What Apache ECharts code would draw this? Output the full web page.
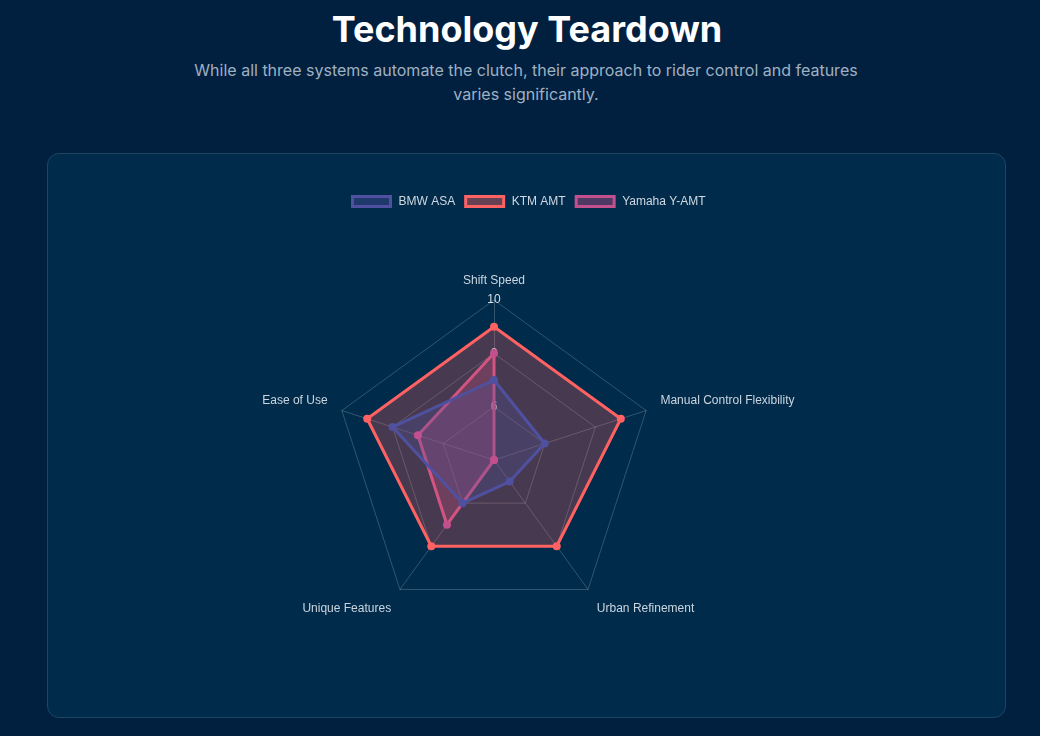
<!DOCTYPE html>
<html>
<head>
<meta charset="utf-8">
<script src="https://cdn.jsdelivr.net/npm/echarts@6/dist/echarts.min.js"></script>
<style>
  html, body { margin: 0; padding: 0; }
  body { width: 1040px; height: 736px; background: #01203f; position: relative; overflow: hidden; font-family: Inter, "Noto Sans", sans-serif; }
  #title { position: absolute; left: 7px; width: 1040px; top: 6px; text-align: center; color: #ffffff; font-family: Inter, sans-serif; font-weight: 700; font-size: 36px; line-height: 46px; letter-spacing: 0px; }
  #sub { position: absolute; left: 180px; width: 692px; top: 58px; text-align: center; color: #9fb0c2; font-family: Inter, sans-serif; font-size: 16px; line-height: 24px; }
  #card { position: absolute; left: 47px; top: 153px; width: 957px; height: 563px; background: #002b4a; border: 1px solid #1d4664; border-radius: 12px; }
  #chart { position: absolute; left: 0; top: 0; width: 1040px; height: 736px; }
</style>
</head>
<body>
<div id="title">Technology Teardown</div>
<div id="sub">While all three systems automate the clutch, their approach to rider control and features varies significantly.</div>
<div id="card"></div>
<div id="chart"></div>
<script>
// Indicators listed counter-clockwise from the top (ECharts radar order)
const indicators = ['Shift Speed', 'Ease of Use', 'Unique Features', 'Urban Refinement', 'Manual Control Flexibility'];
const seriesNames = ['BMW ASA', 'KTM AMT', 'Yamaha Y-AMT'];
const bmwValues = [7, 8, 6, 5, 6];
const ktmValues = [9, 9, 8, 8, 9];
const yamahaValues = [8, 7, 7, 4, 4];
const scaleMin = 4;
const scaleMax = 10;
const scaleSplits = 3;

const lineColors = { 'BMW ASA': '#4f51a0', 'KTM AMT': '#ff6262', 'Yamaha Y-AMT': '#c2508f' };
const fillColors = { 'BMW ASA': 'rgba(79,81,160,0.4)', 'KTM AMT': 'rgba(255,98,98,0.4)', 'Yamaha Y-AMT': 'rgba(194,80,143,0.4)' };
const nameShift = { 'Shift Speed': 'n', 'Ease of Use': 'up', 'Manual Control Flexibility': 'up', 'Unique Features': 'down', 'Urban Refinement': 'down' };

const chart = echarts.init(document.getElementById('chart'), null, { renderer: 'canvas' });

function mkSeries(name, values) {
  return {
    type: 'radar',
    name: name,
    symbol: 'circle',
    symbolSize: 8,
    lineStyle: { color: lineColors[name], width: 3 },
    itemStyle: { color: lineColors[name] },
    areaStyle: { color: fillColors[name] },
    emphasis: { disabled: true },
    data: [{ name: name, value: values }]
  };
}

const labelFont = 'Liberation Sans, Arial, sans-serif';
const option = {
  animation: false,
  legend: {
    top: 190,
    left: 346,
    itemWidth: 38,
    itemHeight: 10,
    itemGap: 9,
    icon: 'rect',
    selectedMode: false,
    textStyle: { color: '#d0d8e2', fontSize: 12, fontFamily: labelFont, padding: [0, 0, 0, 3] },
    data: seriesNames.map(n => ({ name: n, itemStyle: { color: fillColors[n], borderColor: lineColors[n], borderWidth: 3 } }))
  },
  radar: {
    center: [494, 460],
    radius: 160,
    startAngle: 90,
    splitNumber: scaleSplits,
    shape: 'polygon',
    axisName: {
      color: '#cbd5e0',
      fontSize: 12,
      fontFamily: labelFont,
      formatter: function (name) { return '{' + nameShift[name] + '|' + name + '}'; },
      rich: {
        n: { fontSize: 12, color: '#cbd5e0', fontFamily: labelFont, padding: [0, 0, -2, 0] },
        up: { fontSize: 12, color: '#cbd5e0', fontFamily: labelFont, padding: [0, 0, 10, 0] },
        down: { fontSize: 12, color: '#cbd5e0', fontFamily: labelFont, padding: [14, 0, 0, 0] }
      }
    },
    nameGap: 15,
    splitArea: { show: false },
    splitLine: { lineStyle: { color: 'rgba(255,255,255,0.2)', width: 1 } },
    axisLine: { lineStyle: { color: 'rgba(255,255,255,0.2)', width: 1 } },
    axisTick: { show: false },
    axisLabel: { show: false },
    indicator: indicators.map((n, i) => {
      const ind = { name: n, min: scaleMin, max: scaleMax };
      if (i === 0) {
        ind.axisLabel = { show: true, showMinLabel: false, margin: 0, align: 'center', verticalAlign: 'middle', color: '#d5dde6', fontSize: 12, fontFamily: labelFont };
      }
      return ind;
    })
  },
  series: [
    mkSeries('Yamaha Y-AMT', yamahaValues),
    mkSeries('KTM AMT', ktmValues),
    mkSeries('BMW ASA', bmwValues)
  ]
};
chart.setOption(option);
</script>
</body>
</html>
